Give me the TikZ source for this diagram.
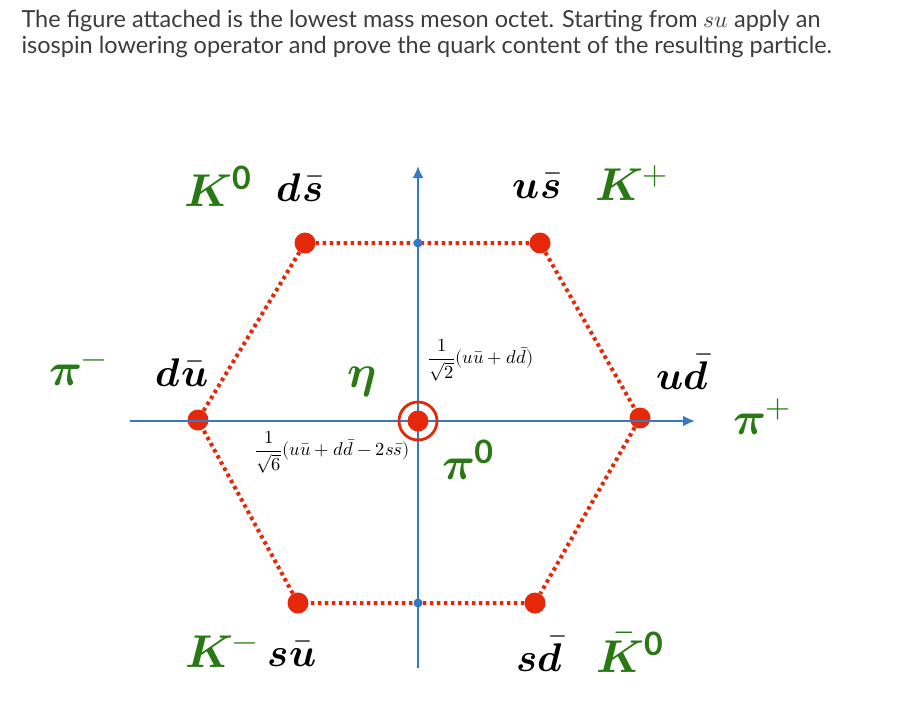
\documentclass[tikz,border=0pt]{standalone}
\usepackage{amsmath}
\usepackage{unicode-math}
\setmainfont{Lato}
\setmathfont{Latin Modern Math}
\usetikzlibrary{arrows.meta}
\begin{document}
\begin{tikzpicture}[x=1pt,y=-1pt,
  ax/.style={draw={rgb,255:red,52;green,120;blue,198},line width=2.8pt,-{Latex[length=12pt,width=11pt]}},
  ed/.style={draw={rgb,255:red,230;green,40;blue,10},line width=4pt,dash pattern=on 3.5pt off 3.5pt},
  dot/.style={circle,fill={rgb,255:red,230;green,40;blue,10},inner sep=0pt,minimum size=21pt},
  bdot/.style={circle,fill={rgb,255:red,52;green,120;blue,198},inner sep=0pt,minimum size=9pt},
  gl/.style={text={rgb,255:red,40;green,120;blue,20},font=\fontsize{46}{48}\selectfont,inner sep=0pt},
  bl/.style={font=\fontsize{40}{42}\selectfont,inner sep=0pt},
  sm/.style={font=\fontsize{18.5}{20}\selectfont,inner sep=0pt}]
\useasboundingbox (0,0) rectangle (913,718);
\node[anchor=west,text={rgb,255:red,60;green,60;blue,60},font=\fontsize{23.5}{26}\selectfont,align=left] (q) at (18,34) {The figure attached is the lowest mass meson octet. Starting from $su$ apply an\\isospin lowering operator and prove the quark content of the resulting particle.};
\coordinate (c) at (418,421);
\coordinate (xl) at (130,421); \coordinate (xr) at (695,421);
\coordinate (yb) at (418,668); \coordinate (yt) at (418,166);
\node[dot] (tl) at (305,243) {};
\node[dot] (tr) at (540,243) {};
\node[dot] (l) at (198,420) {};
\node[dot] (r) at (640,418) {};
\node[dot] (bl) at (298,603) {};
\node[dot] (br) at (535,603) {};
\draw[ed] (tl) -- (tr) -- (r) -- (br) -- (bl) -- (l) -- (tl);
\draw[ax] (xl) -- (xr);
\draw[ax] (yb) -- (yt);
\node[bdot] (bt) at (418,243) {};
\node[bdot] (bb) at (418,603) {};
\node[dot] (cd) at (c) {};
\node[circle,draw={rgb,255:red,230;green,40;blue,10},line width=2.8pt,minimum size=38pt] (cc) at (c) {};
\node[gl] (k0) at (218,186) {$\mathbfit{K}^{\mathbf{0}}$};
\node[bl] (ds) at (300,188) {$\mathbfit{d\bar s}$};
\node[bl] (us) at (537,186) {$\mathbfit{u\bar s}$};
\node[gl] (kp) at (632,183) {$\mathbfit{K}^{\mathbf{+}}$};
\node[gl] (pim) at (78,373) {$\mathbfit{\pi}^{\mathbf{-}}$};
\node[bl] (du) at (182,373) {$\mathbfit{d\bar u}$};
\node[gl] (eta) at (362,382) {$\mathbfit{\eta}$};
\node[bl] (ud) at (683,372) {$\mathbfit{u\bar d}$};
\node[gl] (pip) at (762,417) {$\mathbfit{\pi}^{\mathbf{+}}$};
\node[gl] (pi0) at (468,460) {$\mathbfit{\pi}^{\mathbf{0}}$};
\node[gl] (km) at (222,652) {$\mathbfit{K}^{\mathbf{-}}$};
\node[bl] (su) at (292,654) {$\mathbfit{s\bar u}$};
\node[bl] (sd) at (540,654) {$\mathbfit{s\bar d}$};
\node[gl] (k0b) at (630,652) {$\bar{\mathbfit{K}}^{\mathbf{0}}$};
\node[sm,anchor=west] (f2) at (428,360) {$\dfrac{1}{\sqrt2}(u\bar u+d\bar d)$};
\node[sm,anchor=east] (f6) at (410,452) {$\dfrac{1}{\sqrt6}(u\bar u+d\bar d-2s\bar s)$};
\end{tikzpicture}
\end{document}
